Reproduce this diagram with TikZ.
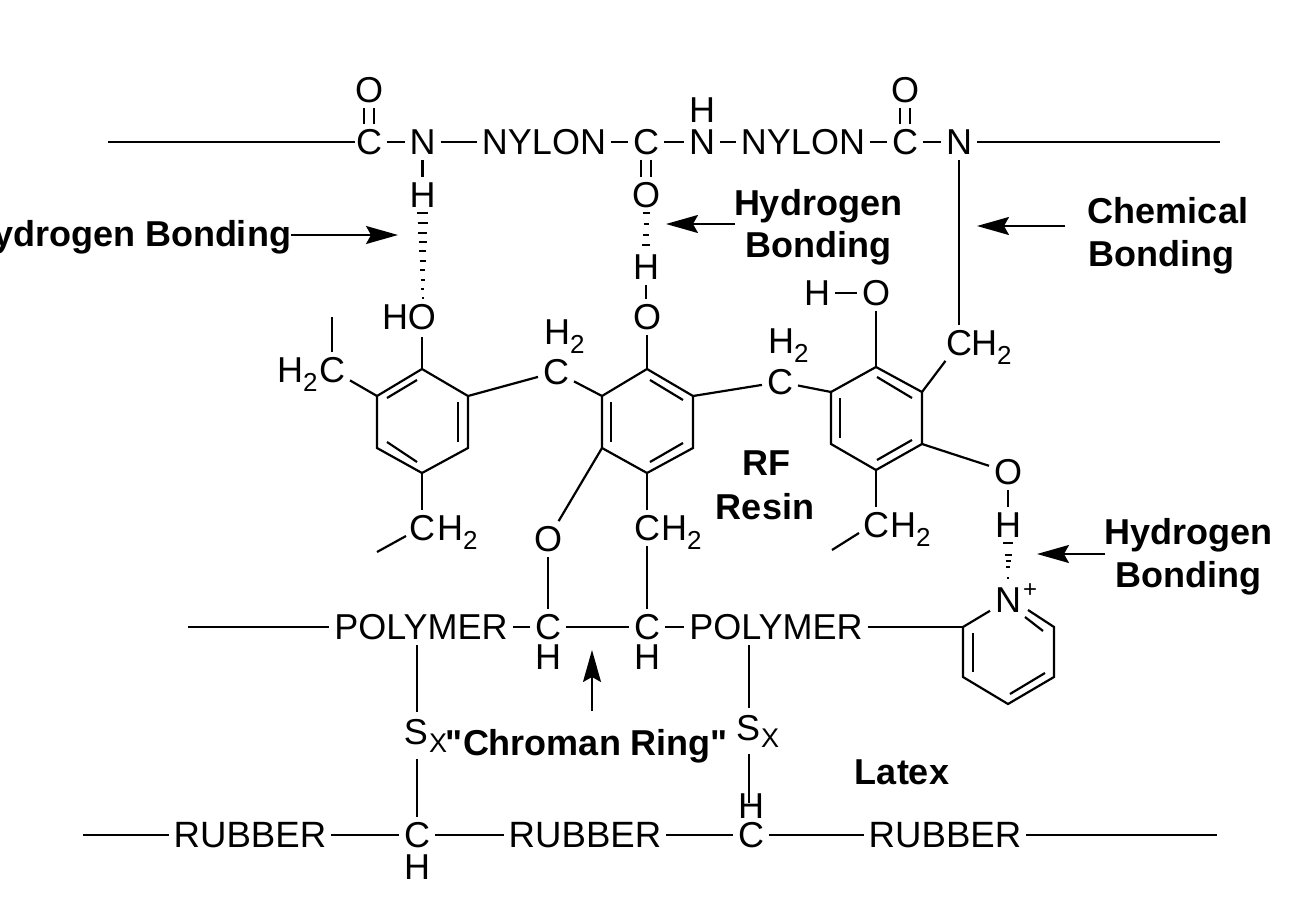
\documentclass[tikz,border=0pt]{standalone}
\usepackage{fontspec}
\setmainfont{Liberation Sans}[Ligatures=TeXOff]
\usetikzlibrary{arrows.meta}
\newcommand{\subx}[1]{\raisebox{-8.5pt}{\fontsize{26}{26}\selectfont #1}}
\tikzset{
  bond/.style={line width=2.2pt,black},
  thinline/.style={line width=1.7pt,black},
  rung/.style={line width=2.8pt,black},
  atom/.style={font=\fontsize{36}{40}\selectfont,text height=25.8pt,text depth=0pt,inner sep=5pt,outer sep=0pt,text=black},
  atomw/.style={atom,inner sep=0pt,anchor=west},
  tag/.style={font=\fontsize{36}{40}\selectfont\bfseries,text height=25.8pt,text depth=0pt,inner sep=0pt,outer sep=0pt,text=black},
  sx/.style={font=\fontsize{27}{27}\selectfont,text height=19pt,text depth=0pt,inner sep=0pt,text=black},
  pointer/.style={thinline,-{Stealth[length=32pt,width=18pt,inset=5pt]}}
}
\begin{document}
\begin{tikzpicture}[x=1pt,y=-1pt]
\useasboundingbox (0,0) rectangle (1293,904);
\fill[white] (0,0) rectangle (1293,904);

% ---- top row
\node[atom] (c1) at (369,142) {C};
\node[atom] (o1) at (369,90) {O};
\node[atom] (n1) at (422.5,142) {N};
\node[atom] (h1) at (422.5,195) {H};
\node[atom] (ny1) at (544,142) {NYLON};
\node[atom] (c2) at (646,142) {C};
\node[atom] (o2) at (646,195) {O};
\node[atom] (n2) at (702,142) {N};
\node[atom] (hn2) at (702,110) {H};
\node[atom] (ny2) at (803,142) {NYLON};
\node[atom] (c3) at (905,142) {C};
\node[atom] (o3) at (905,90) {O};
\node[atom] (n3) at (959,142) {N};
\coordinate (tl) at (108,142);
\coordinate (tr) at (1220,142);
\draw[bond,shorten >=-4pt] (tl) -- (c1.west);
\draw[bond] (c1.east) -- (n1.west);
\draw[bond] (n1.east) -- (ny1.west);
\draw[bond] (ny1.east) -- (c2.west);
\draw[bond] (c2.east) -- (n2.west);
\draw[bond] (n2.east) -- (ny2.west);
\draw[bond] (ny2.east) -- (c3.west);
\draw[bond] (c3.east) -- (n3.west);
\draw[bond] (n3.east) -- (tr);
\draw[bond] (n1.south) -- (h1.north);
\draw[bond,transform canvas={xshift=-4.7pt}] (c1.north) -- (o1.south);
\draw[bond,transform canvas={xshift=4.7pt}] (c1.north) -- (o1.south);
\draw[bond,transform canvas={xshift=-4.7pt}] (c3.north) -- (o3.south);
\draw[bond,transform canvas={xshift=4.7pt}] (c3.north) -- (o3.south);
\draw[bond,transform canvas={xshift=-4.7pt}] (c2.south) -- (o2.north);
\draw[bond,transform canvas={xshift=4.7pt}] (c2.south) -- (o2.north);

% ---- hydrogen-bond hatches
\foreach \y/\w in {213/11,223/10,233/9,242/8,251/7,261/6,270/5,280/4,289/3,298/2}
  \draw[rung] ({422.5-\w/2},\y) -- ({422.5+\w/2},\y);
\foreach \y/\w in {213/7,224/5,235/6,245/8}
  \draw[rung] ({646-\w/2},\y) -- ({646+\w/2},\y);
\foreach \y/\w in {543/10,555/7,561/5,567/4,578/2}
  \draw[rung] ({1008-\w/2},\y) -- ({1008+\w/2},\y);

% ---- upper phenolic atoms
\node[atom,inner sep=0pt] (ho1) at (409,317) {HO};
\coordinate (ho1b) at (422,337);
\node[atom] (oh2) at (646,267) {H};
\node[atom] (o4) at (647,317) {O};
\node[atom] (ho3h) at (817,293) {H};
\node[atom] (ho3o) at (876,293) {O};
\draw[bond] (oh2.south) -- (oh2.south |- o4.north);
\draw[bond] (ho3h.east) -- (ho3o.west);

% ---- ring 1
\coordinate (a1) at (422,369);
\coordinate (a2) at (468,396);
\coordinate (a3) at (468,448);
\coordinate (a4) at (422,473);
\coordinate (a5) at (377,448);
\coordinate (a6) at (377,396);
\draw[bond,line join=miter] (a1)--(a2)--(a3)--(a4)--(a5)--(a6)--cycle;
\coordinate (ai1) at (387,398); \coordinate (ai2) at (417,380);
\coordinate (ai3) at (458,402); \coordinate (ai4) at (458,442);
\coordinate (ai5) at (387,442); \coordinate (ai6) at (417,462);
\draw[bond] (ai1)--(ai2);
\draw[bond] (ai3)--(ai4);
\draw[bond] (ai5)--(ai6);
\draw[bond] (ho1b) -- (a1);

% ---- ring 2
\coordinate (b1) at (647,369);
\coordinate (b2) at (693,396);
\coordinate (b3) at (693,448);
\coordinate (b4) at (647,473);
\coordinate (b5) at (602,448);
\coordinate (b6) at (602,396);
\draw[bond,line join=miter] (b1)--(b2)--(b3)--(b4)--(b5)--(b6)--cycle;
\coordinate (bi1) at (611,402); \coordinate (bi2) at (611,442);
\coordinate (bi3) at (650,380); \coordinate (bi4) at (683,400);
\coordinate (bi5) at (650,462); \coordinate (bi6) at (683,443);
\draw[bond] (bi1)--(bi2);
\draw[bond] (bi3)--(bi4);
\draw[bond] (bi5)--(bi6);
\draw[bond] (o4.south) -- (b1);

% ---- ring 3
\coordinate (d1) at (876,367);
\coordinate (d2) at (922,392);
\coordinate (d3) at (922,444);
\coordinate (d4) at (876,470);
\coordinate (d5) at (831,444);
\coordinate (d6) at (831,392);
\draw[bond,line join=miter] (d1)--(d2)--(d3)--(d4)--(d5)--(d6)--cycle;
\coordinate (di1) at (840,398); \coordinate (di2) at (840,438);
\coordinate (di3) at (877,377); \coordinate (di4) at (912,398);
\coordinate (di5) at (877,460); \coordinate (di6) at (912,440);
\draw[bond] (di1)--(di2);
\draw[bond] (di3)--(di4);
\draw[bond] (di5)--(di6);
\draw[bond] (ho3o.south) -- (d1);

% ---- H2C at ring 1, left
\node[atomw] (h2l) at (277,370) {H\subx{2}};
\node[atom] (cl) at (332,370) {C};
\coordinate (clup) at (332,317);
\draw[bond] (cl.north) -- (clup);
\draw[bond] (cl) -- (a6);

% ---- CH2 below ring 1
\node[atom] (cb1) at (422,528) {C};
\node[atomw] (hb1) at (437,528) {H\subx{2}};
\coordinate (cb1t) at (377,552);
\coordinate (cb1e) at (406,536);
\draw[bond] (a4) -- (cb1.north);
\draw[bond] (cb1e) -- (cb1t);

% ---- methylene bridge 1
\node[atom] (br1) at (556,372) {C};
\node[atomw] (brh1) at (544,332) {H\subx{2}};
\draw[bond] (a2) -- (br1);
\draw[bond] (br1) -- (b6);

% ---- methylene bridge 2
\node[atom] (br2) at (780,382) {C};
\node[atomw] (brh2) at (768,341) {H\subx{2}};
\draw[bond] (b2) -- (br2);
\draw[bond] (br2) -- (d6);

% ---- below ring 2
\node[atom] (o5) at (548,539) {O};
\node[atom] (cb2) at (647,528) {C};
\node[atomw] (hb2) at (661,528) {H\subx{2}};
\draw[bond] (b5) -- (o5);
\draw[bond] (b4) -- (cb2.north);

% ---- right ring substituents
\node[atom] (cr) at (959,343) {C};
\node[atomw] (hr) at (971,343) {H\subx{2}};
\draw[bond] (n3.south) -- (cr.north);
\draw[bond] (d2) -- (cr);
\node[atom] (o6) at (1008,472) {O};
\node[atom] (h6) at (1008,525) {H};
\draw[bond] (d3) -- (o6);
\draw[bond] (o6.south) -- (h6.north);
\node[atom] (cb3) at (876,525) {C};
\node[atomw] (hb3) at (890,525) {H\subx{2}};
\coordinate (cb3t) at (832,550);
\coordinate (cb3e) at (859,533);
\draw[bond] (d4) -- (cb3.north);
\draw[bond] (cb3e) -- (cb3t);

% ---- polymer row
\coordinate (pl) at (188,627);
\node[atom] (p1) at (421,627) {POLYMER};
\node[atom] (c5) at (548,627) {C};
\node[atom] (h5) at (548,657) {H};
\node[atom] (c7) at (647,627) {C};
\node[atom] (h7) at (647,657) {H};
\node[atom] (p2) at (776,627) {POLYMER};
\draw[bond] (pl) -- (p1.west);
\draw[bond] (p1.east) -- (c5.west);
\draw[bond] (c5.east) -- (c7.west);
\draw[bond] (c7.east) -- (p2.west);
\draw[bond] (o5.south) -- (c5.north);
\draw[bond] (cb2.south) -- (c7.north);

% ---- pyridinium
\node[atom] (npl) at (1008,600) {N};
\node[font=\fontsize{24}{24}\selectfont,inner sep=0pt,text=black] (plus) at (1030,591) {+};
\coordinate (e1) at (963,627);
\coordinate (e2) at (963,677);
\coordinate (e3) at (1008,704);
\coordinate (e4) at (1054,677);
\coordinate (e5) at (1054,627);
\coordinate (e6) at (1028,610);
\draw[bond,line join=miter] (npl) -- (e1) -- (e2) -- (e3) -- (e4) -- (e5) -- (e6);
\coordinate (ei1) at (973,633); \coordinate (ei2) at (973,672);
\coordinate (ei3) at (1010,694); \coordinate (ei4) at (1045,673);
\coordinate (ei5) at (1025,617); \coordinate (ei6) at (1043,631);
\draw[bond] (ei1)--(ei2);
\draw[bond] (ei3)--(ei4);
\draw[bond] (ei5)--(ei6);
\draw[bond] (p2.east) -- (e1);

% ---- sulfur links
\node[atom,inner sep=0pt] (s1) at (416,732) {S};
\node[sx] (x1) at (438,743) {X};
\node[atom,inner sep=0pt] (s2) at (748,728) {S};
\node[sx] (x2) at (770,738) {X};
\coordinate (s1t) at (417,645); \coordinate (s1b) at (417,712);
\coordinate (s1c) at (417,759); \coordinate (s2t) at (749,645);
\coordinate (s2b) at (749,708); \coordinate (s2c) at (749,754);
\draw[bond] (s1t) -- (s1b);
\draw[bond] (s2t) -- (s2b);

% ---- rubber row
\coordinate (rl) at (83,835);
\coordinate (rr) at (1217,835);
\node[atom,font=\fontsize{36.6}{40}\selectfont] (r1) at (250,835) {RUBBER};
\node[atom] (c8) at (417,835) {C};
\node[atom] (h8) at (417,867) {H};
\node[atom,font=\fontsize{36.6}{40}\selectfont] (r2) at (585,835) {RUBBER};
\node[atom] (c9) at (751,835) {C};
\node[atom] (h9) at (751,806) {H};
\node[atom,font=\fontsize{36.6}{40}\selectfont] (r3) at (945,835) {RUBBER};
\draw[bond] (rl) -- (r1.west);
\draw[bond] (r1.east) -- (c8.west);
\draw[bond] (c8.east) -- (r2.west);
\draw[bond] (r2.east) -- (c9.west);
\draw[bond] (c9.east) -- (r3.west);
\draw[bond] (r3.east) -- (rr);
\draw[bond] (s1c) -- (c8.north);
\coordinate (s2d) at (749,803);
\draw[bond] (s2c) -- (s2d);

% ---- bold labels
\node[tag,anchor=east] (lbl1) at (291,234) {Hydrogen Bonding};
\node[tag] (lbl2a) at (818,203) {Hydrogen};
\node[tag] (lbl2b) at (818,245) {Bonding};
\node[tag] (lbl3a) at (1168,211) {Chemical};
\node[tag] (lbl3b) at (1161,254) {Bonding};
\node[tag] (rf1) at (766,463) {RF};
\node[tag] (rf2) at (765,507) {Resin};
\node[tag] (lbl4a) at (1188,532) {Hydrogen};
\node[tag] (lbl4b) at (1188,575) {Bonding};
\node[tag] (chrom) at (587,743) {"Chroman Ring"};
\node[tag] (latex) at (902,772) {Latex};

% ---- arrows
\coordinate (t1) at (398,235);
\coordinate (t2) at (666,224);
\coordinate (f2) at (735,224);
\coordinate (t3) at (977,226);
\coordinate (f3) at (1065,226);
\coordinate (t4) at (1037,554);
\coordinate (f4) at (1105,554);
\coordinate (t5) at (592,650);
\coordinate (f5) at (592,711);
\draw[pointer] (lbl1.east |- t1) -- (t1);
\draw[pointer] (f2) -- (t2);
\draw[pointer] (f3) -- (t3);
\draw[pointer] (f4) -- (t4);
\draw[pointer] (f5) -- (t5);
\end{tikzpicture}
\end{document}
